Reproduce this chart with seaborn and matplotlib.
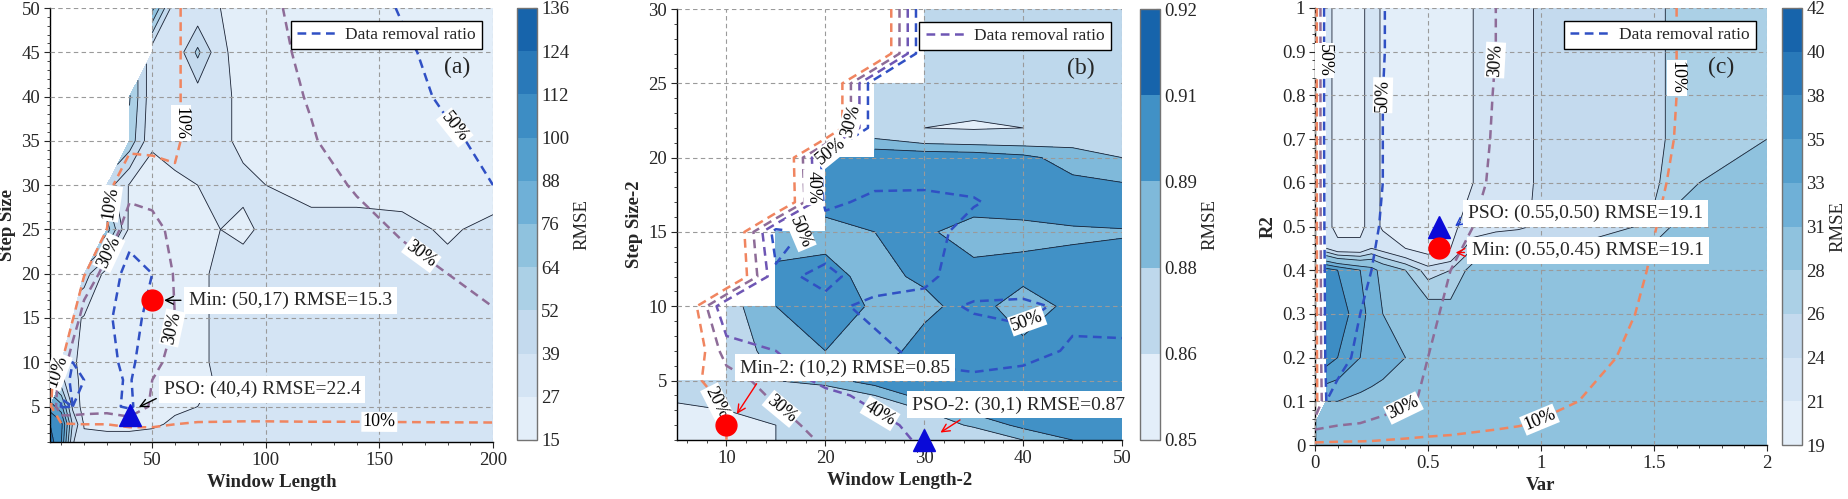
import numpy as np
import matplotlib
matplotlib.use("Agg")
import matplotlib.pyplot as plt
from matplotlib.lines import Line2D
from matplotlib.ticker import MultipleLocator, FuncFormatter
import seaborn as sns

n = np.nan

# ---------------- panel (a): Window Length vs Step Size ----------------
win_a = [5, 10, 15, 20, 30, 40, 50, 60, 70, 80, 90, 100, 120, 140, 160, 180, 200]
step_a = [1, 3, 5, 8, 10, 15, 20, 25, 30, 35, 40, 45, 50]
rmse_a = [
    [118, 100, 40, 30, 30, 30, 30, 30, 30, 30, 30, 30, 30, 30, 30, 30, 30],
    [112, 104, 50, 26, 25, 25, 26, 28, 29, 29, 30, 30, 30, 30, 30, 30, 30],
    [95, 80, 36, 22, 22, 22, 24, 26, 27, 29, 29, 28, 29, 29, 29, 30, 30],
    [n, 42, 30, 24, 21, 21, 22, 24, 25, 28, 28, 28, 29, 28, 29, 29, 29],
    [n, 36, 28, 25, 21, 20, 21, 23, 26, 28, 29, 29, 29, 29, 28, 29, 29],
    [n, n, 30, 26, 21, 19, 18, 22, 26, 28, 29, 29, 29, 29, 29, 29, 29],
    [n, n, n, 45, 22, 20, 18, 23, 26, 28, 29, 29, 29, 29, 29, 29, 29],
    [n, n, n, n, 70, 24, 22, 24, 26, 27, 26, 28, 29, 28, 29, 26, 29],
    [n, n, n, n, 45, 26, 24, 26, 27, 28, 28, 27, 25, 26, 24, 24, 23],
    [n, n, n, n, n, 60, 28, 29, 28, 28, 26, 25, 24, 23, 22, 22, 22],
    [n, n, n, n, n, 65, 30, 29, 32, 28, 26, 24, 23, 22, 22, 22, 22],
    [n, n, n, n, n, n, 30, 29, 55, 28, 25, 24, 23, 22, 22, 22, 22],
    [n, n, n, n, n, n, 80, 29, 28, 27, 24, 24, 23, 22, 22, 22, 22],
]
ratio_a = [
    [4, 5, 5, 5, 5, 5, 5, 5, 5, 4, 4, 4, 4, 4, 4, 4, 4],
    [5, 8, 9, 10, 10, 11, 11, 10, 9, 9, 9, 9, 9, 9, 9, 9, 9],
    [5, 52, 50, 45, 42, 55, 25, 19, 17, 16, 15, 15, 16, 16, 17, 18, 19],
    [0, 45, 52, 50, 45, 52, 30, 22, 19, 18, 17, 17, 17, 18, 19, 20, 22],
    [0, 8, 50, 50, 45, 55, 35, 24, 20, 19, 18, 18, 18, 19, 20, 22, 24],
    [0, 0, 8, 45, 48, 56, 45, 30, 22, 20, 19, 19, 20, 21, 23, 26, 29],
    [0, 0, 0, 8, 42, 55, 50, 28, 22, 20, 20, 20, 22, 24, 27, 30, 33],
    [0, 0, 0, 0, 10, 45, 42, 20, 18, 19, 20, 21, 24, 27, 31, 35, 38],
    [0, 0, 0, 0, 6, 20, 14, 11, 14, 17, 20, 22, 26, 31, 37, 43, 50],
    [0, 0, 0, 0, 0, 6, 8, 9, 13, 17, 20, 23, 29, 36, 43, 48, 53],
    [0, 0, 0, 0, 0, 5, 7, 9, 13, 17, 21, 25, 31, 39, 46, 52, 56],
    [0, 0, 0, 0, 0, 0, 6, 9, 13, 18, 22, 26, 33, 41, 48, 54, 58],
    [0, 0, 0, 0, 0, 0, 6, 9, 13, 18, 23, 27, 35, 44, 51, 56, 60],
]
levels_a = [15, 27, 39, 52, 64, 76, 88, 100, 112, 124, 136]
ratio_levels_a = [10, 30, 50]
min_a, pso_a = [50, 17], [40, 4]
min_text_a = "Min: (50,17) RMSE=15.3"
pso_text_a = "PSO: (40,4) RMSE=22.4"

# ---------------- panel (b): Window Length-2 vs Step Size-2 ----------------
win_b = [5, 10, 15, 20, 25, 30, 35, 40, 45, 50]
step_b = [1, 2, 3, 4, 5, 7, 10, 12, 15, 17, 20, 22, 25, 27, 30]
rmse_b = [
    [0.856, 0.856, 0.860, 0.862, 0.864, 0.870, 0.868, 0.880, 0.890, 0.897],
    [0.855, 0.850, 0.860, 0.862, 0.866, 0.872, 0.882, 0.893, 0.897, 0.898],
    [0.858, 0.860, 0.868, 0.866, 0.868, 0.880, 0.893, 0.898, 0.898, 0.898],
    [0.862, 0.876, 0.870, 0.868, 0.880, 0.895, 0.898, 0.897, 0.898, 0.897],
    [0.862, 0.870, 0.880, 0.886, 0.895, 0.900, 0.897, 0.898, 0.898, 0.897],
    [n, 0.872, 0.885, 0.890, 0.880, 0.898, 0.897, 0.895, 0.896, 0.897],
    [n, 0.875, 0.890, 0.898, 0.888, 0.885, 0.898, 0.880, 0.895, 0.897],
    [n, n, 0.895, 0.895, 0.885, 0.893, 0.896, 0.895, 0.895, 0.896],
    [n, n, 0.880, 0.885, 0.890, 0.893, 0.882, 0.886, 0.888, 0.889],
    [n, n, n, 0.895, 0.898, 0.900, 0.898, 0.896, 0.898, 0.898],
    [n, n, n, 0.895, 0.898, 0.898, 0.897, 0.893, 0.885, 0.880],
    [n, n, n, n, 0.870, 0.860, 0.858, 0.860, 0.870, 0.880],
    [n, n, n, n, 0.862, 0.872, 0.870, 0.872, 0.860, 0.872],
    [n, n, n, n, n, 0.870, 0.872, 0.870, 0.872, 0.870],
    [n, n, n, n, n, 0.872, 0.870, 0.872, 0.870, 0.872],
]
ratio_b = [
    [12, 20, 26, 31, 37, 41, 43, 43, 43, 43],
    [12, 20, 27, 33, 38, 42, 44, 44, 44, 44],
    [13, 21, 29, 35, 40, 43, 45, 45, 45, 45],
    [14, 22, 32, 38, 42, 45, 46, 46, 46, 46],
    [15, 25, 35, 42, 46, 48, 48, 47, 46, 46],
    [0, 35, 40, 45, 48, 52, 55, 53, 49, 48],
    [0, 50, 45, 48, 52, 53, 49, 48, 52, 55],
    [0, 0, 48, 52, 46, 48, 55, 56, 56, 56],
    [0, 0, 55, 45, 48, 45, 55, 56, 56, 56],
    [0, 0, 0, 52, 48, 47, 49, 55, 56, 56],
    [0, 0, 0, 55, 56, 58, 58, 58, 58, 58],
    [0, 0, 0, 0, 58, 60, 60, 60, 60, 60],
    [0, 0, 0, 0, 58, 60, 60, 60, 60, 60],
    [0, 0, 0, 0, 0, 60, 60, 60, 60, 60],
    [0, 0, 0, 0, 0, 60, 60, 60, 60, 60],
]
levels_b = [0.85, 0.86, 0.88, 0.89, 0.91, 0.92]
ratio_levels_b = [20, 30, 40, 50]
min_b, pso_b = [10, 2], [30, 1]
min_text_b = "Min-2: (10,2) RMSE=0.85"
pso_text_b = "PSO-2: (30,1) RMSE=0.87"

# ---------------- panel (c): Var vs R2 ----------------
var_c = [0, 0.05, 0.1, 0.2, 0.25, 0.3, 0.4, 0.5, 0.6, 0.7, 0.8, 0.9, 1.0, 1.25, 1.5, 1.6, 1.8, 2.0]
r2_c = [0, 0.05, 0.1, 0.2, 0.3, 0.4, 0.45, 0.5, 0.6, 0.7, 0.8, 0.9, 1.0]
rmse_c = [
    [29, 29, 29, 29, 29, 29, 29, 29, 29, 29, 29, 29, 29, 29, 29, 29, 29, 29],
    [29, 29, 29, 29, 29, 29, 29, 29, 29, 29, 29, 29, 29, 29, 29, 29, 29, 29],
    [n, 31, 31, 30.5, 30.5, 30.5, 30, 29.5, 29, 29, 29, 29, 29, 29, 29, 29, 29, 29],
    [n, 36, 35, 33, 32, 31.5, 31, 31, 30.5, 29.5, 29, 29, 29, 29, 29, 29, 29, 29],
    [n, 37, 36, 34, 32, 31, 30, 29.5, 29, 29, 29, 29, 29, 29, 29, 29, 29, 29],
    [n, 36, 35, 33, 32, 30, 28, 25, 26, 29, 29, 29, 29, 29, 29, 29, 29, 29],
    [n, 24, 22, 22, 24, 23, 21, 19.5, 21, 26, 27, 27, 27, 27, 28.5, 29, 29, 29],
    [n, 22, 20, 20, 22.5, 20.5, 20, 19.5, 20.5, 22, 23, 23.5, 24.5, 25, 26.5, 28.5, 28.8, 28.8],
    [n, 22, 20, 20, 22.5, 20.5, 20, 19.8, 20.5, 21, 22.5, 23, 24.5, 25, 25.5, 27.5, 28.5, 28.8],
    [n, 22, 20, 20, 22.5, 20.5, 20, 20, 20.5, 21, 22.5, 23, 24.5, 25, 25.5, 26.5, 27, 28],
    [n, 22, 20, 20, 22.5, 20.5, 20, 20, 20.5, 21, 22.5, 23, 24.5, 25, 25.5, 26.5, 27, 27.5],
    [n, 22, 20, 20, 22.5, 20.5, 20, 20, 20.5, 21, 22.5, 23, 24.5, 25, 25.5, 26.5, 27, 27.5],
    [n, 22, 20, 20, 22.5, 20.5, 20, 20, 20.5, 21, 22.5, 23, 24.5, 25, 25.5, 26.5, 27, 27.5],
]
ratio_c = [
    [6, 6, 6, 6, 6, 5.5, 5, 5, 5, 4.5, 4, 4, 3.5, 3, 2.5, 2.5, 2, 2],
    [40, 36, 33, 30, 28, 26, 22, 18, 16, 14, 12.5, 11, 9.5, 7, 5, 4.5, 3.5, 3],
    [0, 50, 47, 42, 40, 38, 33, 27, 22, 19, 16, 14, 12, 9, 6.5, 5.5, 4.5, 3.5],
    [0, 55, 53, 48, 45, 42, 36, 30, 26, 24, 21, 18, 16, 11, 8, 7, 5.5, 4],
    [0, 57, 55, 50, 47, 45, 38, 32, 28, 26, 23, 20, 17, 12, 9, 7.5, 6, 4.5],
    [0, 58, 56, 52, 50, 47, 40, 35, 30, 28, 25, 22, 19, 13.5, 9.5, 8, 6.5, 5],
    [0, 59, 57, 53, 51, 48, 42, 36, 31, 29, 26, 23, 20, 14, 9.8, 8.2, 7, 5],
    [0, 60, 58, 54, 52, 49, 43, 38, 34, 30, 27, 24, 21, 15, 10.2, 8.5, 7, 5],
    [0, 61, 59, 55, 53, 50, 44, 39, 35, 32, 28.5, 25, 22, 16, 11, 9.2, 7.5, 5.5],
    [0, 62, 60, 56, 53, 50, 45, 40, 36, 33, 29, 26, 23, 17, 11.5, 9.8, 8, 6],
    [0, 62, 60, 56, 53, 50, 45, 40, 36, 33, 29.5, 26, 23, 17, 12, 10, 8, 6],
    [0, 62, 60, 56, 53, 50.5, 45, 40, 36, 33, 30, 26, 23, 17, 12, 10, 8, 6],
    [0, 62, 60, 56, 53, 50.5, 45, 40, 36, 33, 30, 26, 23, 17, 12, 10, 8, 6],
]
levels_c = [19, 21, 24, 26, 28, 31, 33, 35, 38, 40, 42]
ratio_levels_c = [10, 30, 50]
min_c, pso_c = [0.55, 0.45], [0.55, 0.50]
min_text_c = "Min: (0.55,0.45) RMSE=19.1"
pso_text_c = "PSO: (0.55,0.50) RMSE=19.1"

# ---------------- style ----------------
sns.set_theme(style="ticks")
plt.rcParams["font.family"] = ["Liberation Serif", "DejaVu Serif"]
plt.rcParams["axes.unicode_minus"] = False

blues = sns.color_palette("Blues", as_cmap=True)
ORANGE, MAUVE, PURPLE, BLUE = "#f08560", "#8e6c98", "#6e56b4", "#3050c4"
DASH = (0, (3.5, 2.2))
FS = 13.5

W, H = 1849, 499
fig = plt.figure(figsize=(W / 100, H / 100), dpi=100)


def rect(l, r, t, b):
    return [l / W, 1 - b / H, (r - l) / W, (b - t) / H]


def draw_panel(ax, cax, x, y, z, r, levels, rlevels, rcolors, label_pos, corner=True):
    fills = [blues(v) for v in np.linspace(0.1, 0.8, len(levels) - 1)]
    zm = np.ma.masked_invalid(np.array(z, dtype=float))
    cf = ax.contourf(x, y, zm, levels=levels, colors=fills, corner_mask=corner, zorder=1)
    ax.contour(x, y, zm, levels=levels, colors="#1b2233", linewidths=0.6,
               corner_mask=corner, zorder=2)
    cs = ax.contour(x, y, np.array(r, dtype=float), levels=rlevels, colors=rcolors,
                    linewidths=1.8, zorder=3)
    cs.set_linestyle(DASH)
    labels = ax.clabel(cs, manual=label_pos, inline=True, fmt="%d%%", fontsize=13,
                       colors="black", inline_spacing=2)
    for t in labels:
        t.set_bbox(dict(boxstyle="square,pad=0.08", fc="white", ec="none"))
        t.set_zorder(4)

    cb = fig.colorbar(cf, cax=cax, ticks=levels, spacing="uniform", format="%g")
    cb.outline.set_edgecolor("0.45")
    cb.outline.set_linewidth(1.0)
    cax.tick_params(direction="in", length=3, width=0.8, color="0.4", labelsize=FS, pad=3)
    cb.set_label("RMSE", fontsize=FS, labelpad=3)

    sns.despine(ax=ax)
    for s in ("left", "bottom"):
        ax.spines[s].set_color("black")
        ax.spines[s].set_linewidth(1.0)
    ax.tick_params(which="major", direction="out", length=4, width=0.8, labelsize=FS, pad=3)
    ax.tick_params(which="minor", direction="out", length=2.2, width=0.6)
    ax.grid(True, which="major", color="#9a9a9a", linestyle=(0, (4, 3)), linewidth=0.8)
    ax.set_axisbelow(False)


def add_legend(ax, color):
    h = Line2D([], [], color=color, linestyle=DASH, linewidth=1.8)
    leg = ax.legend([h], ["Data removal ratio"], loc="upper right",
                    bbox_to_anchor=(0.975, 0.97), borderaxespad=0, fancybox=False,
                    edgecolor="black", framealpha=1, fontsize=12.5, handlelength=2.2,
                    borderpad=0.35, handletextpad=0.6)
    leg.get_frame().set_linewidth(1.0)
    leg.set_zorder(8)


box = dict(boxstyle="square,pad=0.25", fc="white", ec="none")

# ---- (a)
ax_a = fig.add_axes(rect(50, 493, 8, 442))
cax_a = fig.add_axes(rect(517, 537, 8, 440))
draw_panel(ax_a, cax_a, win_a, step_a, rmse_a, ratio_a, levels_a, ratio_levels_a,
           [ORANGE, MAUVE, BLUE],
           [(63, 37), (150, 5), (168, 22), (57, 14), (176, 35), (34, 22), (30, 28), (8, 9)])
ax_a.set_xlim(5, 200)
ax_a.set_ylim(1, 50)
ax_a.set_xticks([50, 100, 150, 200])
ax_a.set_yticks(range(5, 51, 5))
ax_a.xaxis.set_minor_locator(MultipleLocator(10))
ax_a.yaxis.set_minor_locator(MultipleLocator(1))
ax_a.set_xlabel("Window Length", fontsize=FS, fontweight="bold", labelpad=4)
ax_a.set_ylabel("Step Size", fontsize=FS, fontweight="bold", labelpad=4)
ax_a.plot(*min_a, "o", color="red", ms=15, zorder=6)
ax_a.plot(*pso_a, "^", color="#0a0ad8", ms=16, zorder=6)
ax_a.annotate(min_text_a, xy=(54, 17), xytext=(66, 17), fontsize=14, va="center",
              bbox=box, zorder=7,
              arrowprops=dict(arrowstyle="->", color="black", lw=1, relpos=(0, 0.5)))
ax_a.annotate(pso_text_a, xy=(43, 4.8), xytext=(55, 6.9), fontsize=14, va="center",
              bbox=box, zorder=7,
              arrowprops=dict(arrowstyle="->", color="black", lw=1, relpos=(0, 0.2)))
ax_a.text(0.919, 0.862, "(a)", transform=ax_a.transAxes, fontsize=17, ha="center", va="center")
add_legend(ax_a, BLUE)

# ---- (b)
ax_b = fig.add_axes(rect(677, 1122, 9, 440))
cax_b = fig.add_axes(rect(1140, 1160, 9, 440))
draw_panel(ax_b, cax_b, win_b, step_b, rmse_b, ratio_b, levels_b, ratio_levels_b,
           [ORANGE, MAUVE, PURPLE, BLUE],
           [(9, 3.5), (15.5, 3), (26, 3.3), (41.5, 8), (19, 14.5), (18.5, 18), (21, 20), (23, 22.5)],
           corner=False)
ax_b.set_xlim(5, 50)
ax_b.set_ylim(1, 30)
ax_b.set_xticks([10, 20, 30, 40, 50])
ax_b.set_yticks([5, 10, 15, 20, 25, 30])
ax_b.xaxis.set_minor_locator(MultipleLocator(2))
ax_b.yaxis.set_minor_locator(MultipleLocator(1))
ax_b.set_xlabel("Window Length-2", fontsize=FS, fontweight="bold", labelpad=4)
ax_b.set_ylabel("Step Size-2", fontsize=FS, fontweight="bold", labelpad=4)
ax_b.plot(*min_b, "o", color="red", ms=15, zorder=6, clip_on=False)
ax_b.plot(*pso_b, "^", color="#0a0ad8", ms=16, zorder=6, clip_on=False)
ax_b.annotate(min_text_b, xy=(10.9, 2.6), xytext=(11.4, 5.85), fontsize=14, va="center",
              bbox=box, zorder=7,
              arrowprops=dict(arrowstyle="->", color="red", lw=1, relpos=(0.1, 0)))
ax_b.annotate(pso_text_b, xy=(31.4, 1.4), xytext=(28.8, 3.36), fontsize=14, va="center",
              bbox=box, zorder=7,
              arrowprops=dict(arrowstyle="->", color="red", lw=1, relpos=(0.27, 0)))
ax_b.text(0.907, 0.863, "(b)", transform=ax_b.transAxes, fontsize=17, ha="center", va="center")
add_legend(ax_b, PURPLE)

# ---- (c)
ax_c = fig.add_axes(rect(1315, 1767, 8, 445))
cax_c = fig.add_axes(rect(1782, 1802, 8, 445))
draw_panel(ax_c, cax_c, var_c, r2_c, rmse_c, ratio_c, levels_c, ratio_levels_c,
           [ORANGE, MAUVE, BLUE],
           [(0.82, 0.88), (0.32, 0.8), (1.58, 0.84), (0.38, 0.1), (0.98, 0.07), (0.04, 0.88)])
ax_c.set_xlim(0, 2)
ax_c.set_ylim(0, 1)
ax_c.set_xticks([0, 0.5, 1, 1.5, 2])
ax_c.set_yticks(np.round(np.arange(0, 1.01, 0.1), 1))
ax_c.xaxis.set_minor_locator(MultipleLocator(0.1))
ax_c.yaxis.set_minor_locator(MultipleLocator(0.02))
fmt_g = FuncFormatter(lambda v, p: f"{v:g}")
ax_c.xaxis.set_major_formatter(fmt_g)
ax_c.yaxis.set_major_formatter(fmt_g)
ax_c.set_xlabel("Var", fontsize=FS, fontweight="bold", labelpad=4)
ax_c.set_ylabel("R2", fontsize=FS, fontweight="bold", labelpad=4)
ax_c.plot(*pso_c, "^", color="#0a0ad8", ms=16, zorder=6)
ax_c.plot(*min_c, "o", color="red", ms=15, zorder=6)
ax_c.annotate(pso_text_c, xy=(0.61, 0.497), xytext=(0.675, 0.53), fontsize=14, va="center",
              bbox=box, zorder=7,
              arrowprops=dict(arrowstyle="->", color="#1f3fd0", lw=1, relpos=(0, 0.3)))
ax_c.annotate(min_text_c, xy=(0.61, 0.44), xytext=(0.695, 0.445), fontsize=14, va="center",
              bbox=box, zorder=7,
              arrowprops=dict(arrowstyle="->", color="red", lw=1, relpos=(0, 0.4)))
ax_c.text(0.899, 0.863, "(c)", transform=ax_c.transAxes, fontsize=17, ha="center", va="center")
add_legend(ax_c, BLUE)

fig.savefig("out.png", dpi=100)
